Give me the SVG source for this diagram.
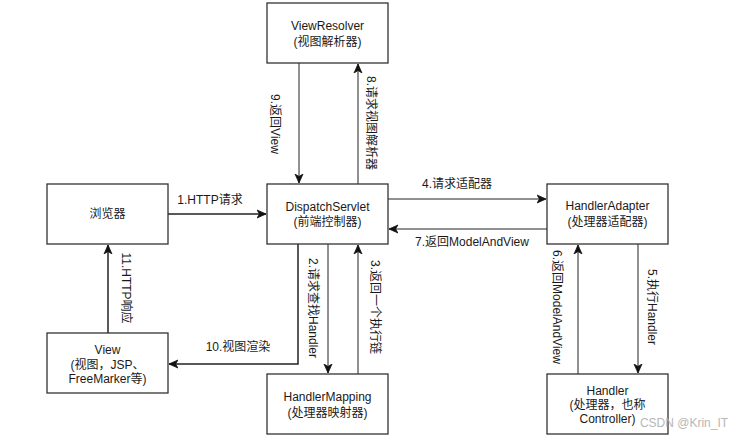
<svg xmlns="http://www.w3.org/2000/svg" width="743" height="439" viewBox="0 0 743 439">
<defs>
<style>
.box{fill:#fff;stroke:#333;stroke-width:1.3}
.t{font-family:"Liberation Sans","Noto Sans CJK SC",sans-serif;font-size:12px;fill:#1a1a1a;text-anchor:middle}
.ln{fill:none;stroke:#222;stroke-width:1}
.thk{stroke-width:1.5}
.v{dominant-baseline:central}
</style>
<marker id="ah" markerUnits="userSpaceOnUse" markerWidth="10" markerHeight="10" refX="9" refY="5" orient="auto" viewBox="0 0 10 10">
<path d="M0,1 L9,5 L0,9 L2.5,5 Z" fill="#111" stroke="#111" stroke-width="0.8"/>
</marker>
</defs>
<rect width="743" height="439" fill="#fff"/>
<g id="connectors">
<path class="ln thk" d="M168,214 H266" marker-end="url(#ah)"/>
<text class="t" x="210" y="204">1.HTTP请求</text>
<path class="ln" d="M299,63 V183" marker-end="url(#ah)"/>
<text class="t v" transform="translate(275,124) rotate(90)">9.返回View</text>
<path class="ln" d="M358,184 V64" marker-end="url(#ah)"/>
<text class="t v" transform="translate(371,123) rotate(90)">8.请求视图解析器</text>
<path class="ln" d="M388,199 H546" marker-end="url(#ah)"/>
<text class="t" x="457" y="188">4.请求适配器</text>
<path class="ln" d="M547,229 H389" marker-end="url(#ah)"/>
<text class="t" x="472" y="246">7.返回ModelAndView</text>
<path class="ln" d="M328,244 V373" marker-end="url(#ah)"/>
<text class="t v" transform="translate(313,308) rotate(90)">2.请求查找Handler</text>
<path class="ln" d="M358,374 V245" marker-end="url(#ah)"/>
<text class="t v" transform="translate(375,307) rotate(90)">3.返回一个执行链</text>
<path class="ln thk" d="M298,244 V364 H169" marker-end="url(#ah)"/>
<text class="t" x="238" y="351">10.视图渲染</text>
<path class="ln thk" d="M108,333 V245" marker-end="url(#ah)"/>
<text class="t v" transform="translate(126,288) rotate(90)">11.HTTP响应</text>
<path class="ln" d="M578,374 V245" marker-end="url(#ah)"/>
<text class="t v" transform="translate(557,307) rotate(90)">6.返回ModelAndView</text>
<path class="ln" d="M638,244 V373" marker-end="url(#ah)"/>
<text class="t v" transform="translate(652,307) rotate(90)">5.执行Handler</text>
</g>
<g id="viewresolver">
<rect class="box" x="267" y="3" width="121" height="60"/>
<text class="t" x="327.5" y="30">ViewResolver</text>
<text class="t" x="327.5" y="46">(视图解析器)</text>
</g>
<g id="browser">
<rect class="box" x="47" y="184" width="121" height="60"/>
<text class="t" x="107.5" y="218">浏览器</text>
</g>
<g id="dispatchservlet">
<rect class="box" x="267" y="184" width="121" height="60"/>
<text class="t" x="327.5" y="211">DispatchServlet</text>
<text class="t" x="327.5" y="226">(前端控制器)</text>
</g>
<g id="handleradapter">
<rect class="box" x="547" y="184" width="121" height="60"/>
<text class="t" x="607.5" y="210">HandlerAdapter</text>
<text class="t" x="607.5" y="226">(处理器适配器)</text>
</g>
<g id="view">
<rect class="box" x="47" y="333" width="121" height="60"/>
<text class="t" x="107.5" y="354">View</text>
<text class="t" x="107.5" y="369">(视图，JSP、</text>
<text class="t" x="107.5" y="383">FreeMarker等)</text>
</g>
<g id="handlermapping">
<rect class="box" x="267" y="374" width="121" height="60"/>
<text class="t" x="327.5" y="401">HandlerMapping</text>
<text class="t" x="327.5" y="417">(处理器映射器)</text>
</g>
<g id="handler">
<rect class="box" x="547" y="374" width="121" height="60"/>
<text class="t" x="607.5" y="395">Handler</text>
<text class="t" x="607.5" y="409">(处理器，也称</text>
<text class="t" x="607.5" y="423">Controller)</text>
</g>
<text x="684" y="427" style="font-family:'Liberation Sans','Noto Sans CJK SC',sans-serif;font-size:12px;fill:#b0b0b0;text-anchor:middle;opacity:0.9">CSDN @Krin_IT</text>
</svg>
